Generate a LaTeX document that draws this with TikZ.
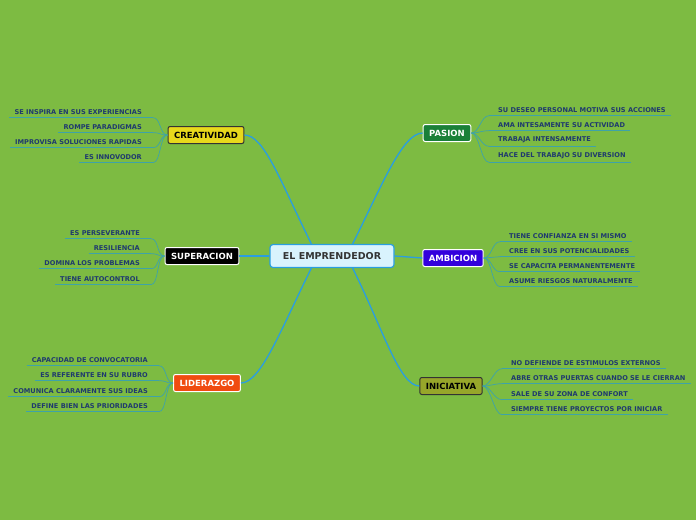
\documentclass[tikz,border=0pt]{standalone}
\usepackage{fontspec}
\setmainfont{DejaVu Sans}
\begin{document}
\begin{tikzpicture}[x=1pt,y=-1pt,
  br/.style={draw,rounded corners=2pt,line width=1pt,inner xsep=6pt,minimum height=17pt,font=\bfseries\fontsize{8.5}{9}\selectfont},
  leaf/.style={inner sep=1pt,text=leafc,font=\bfseries\fontsize{6.6}{7}\selectfont},
  ul/.style={draw=ulc,line width=0.7pt},
  con/.style={draw=conc,line width=1.3pt},
  lcon/.style={draw=ulc,line width=0.7pt}]
\definecolor{bg}{HTML}{7DBB42}
\definecolor{leafc}{HTML}{1F3A6E}
\definecolor{ulc}{HTML}{3EA3A8}
\definecolor{conc}{HTML}{2A9EE0}
\fill[bg] (0,0) rectangle (696,520);
\useasboundingbox (0,0) rectangle (696,520);
\node[draw=conc,fill=cyan!15!white,rounded corners=3pt,line width=1.2pt,minimum width=124pt,minimum height=23pt,font=\bfseries\fontsize{9.5}{10}\selectfont,text=black!80] (m) at (332,256) {EL EMPRENDEDOR};
\node[br,fill={rgb,255:red,232;green,216;blue,28},draw=black!80] (c) at (206,135) {CREATIVIDAD};
\node[br,fill=black,draw=white,text=white] (s) at (202,256) {SUPERACION};
\node[br,fill={rgb,255:red,240;green,75;blue,16},draw=white,text=white] (l) at (207,383) {LIDERAZGO};
\node[br,fill={rgb,255:red,26;green,128;blue,56},draw=white,text=white] (p) at (447,133) {PASION};
\node[br,fill={rgb,255:red,51;green,0;blue,221},draw=white,text=white] (a) at (453,258) {AMBICION};
\node[br,fill={rgb,255:red,151;green,166;blue,42},draw=black!80,text=black] (i) at (451,386) {INICIATIVA};
\draw[con] (m.north west) ++(42,0) .. controls +(-30,-60) and +(20,0) .. (c.east);
\draw[con] (m.west) -- (s.east);
\draw[con] (m.south west) ++(42,0) .. controls +(-30,60) and +(20,0) .. (l.east);
\draw[con] (m.north east) ++(-42,0) .. controls +(30,-60) and +(-20,0) .. (p.west);
\draw[con] (m.east) -- (a.west);
\draw[con] (m.south east) ++(-42,0) .. controls +(30,60) and +(-20,0) .. (i.west);
\foreach \pn/\xx/\lst in {c/143/{112/SE INSPIRA EN SUS EXPERIENCIAS,127/ROMPE PARADIGMAS,142/IMPROVISA SOLUCIONES RAPIDAS,157/ES INNOVODOR},
  s/141/{233/ES PERSEVERANTE,248/RESILIENCIA,263/DOMINA LOS PROBLEMAS,279/TIENE AUTOCONTROL},
  l/149/{360/CAPACIDAD DE CONVOCATORIA,375/ES REFERENTE EN SU RUBRO,391/COMUNICA CLARAMENTE SUS IDEAS,406/DEFINE BIEN LAS PRIORIDADES}}{
  \foreach \yy/\t [count=\k] in \lst {
    \node[leaf,anchor=east] (\pn L\k) at (\xx,\yy) {\t};
    \draw[ul] ([xshift=-4pt,yshift=-2pt]\pn L\k.south west) -- ([xshift=10pt,yshift=-2pt]\pn L\k.south east);
    \draw[lcon] ([xshift=10pt,yshift=-2pt]\pn L\k.south east) .. controls +(8,0) and +(-8,0) .. (\pn.west);
  }}
\foreach \pn/\xx/\lst in {p/497/{110/SU DESEO PERSONAL MOTIVA SUS ACCIONES,125/AMA INTESAMENTE SU ACTIVIDAD,140/TRABAJA INTENSAMENTE,156/HACE DEL TRABAJO SU DIVERSION},
  a/508/{236/TIENE CONFIANZA EN SI MISMO,251/CREE EN SUS POTENCIALIDADES,266/SE CAPACITA PERMANENTEMENTE,281/ASUME RIESGOS NATURALMENTE},
  i/510/{363/NO DEFIENDE DE ESTIMULOS EXTERNOS,378/ABRE OTRAS PUERTAS CUANDO SE LE CIERRAN,394/SALE DE SU ZONA DE CONFORT,409/SIEMPRE TIENE PROYECTOS POR INICIAR}}{
  \foreach \yy/\t [count=\k] in \lst {
    \node[leaf,anchor=west] (\pn R\k) at (\xx,\yy) {\t};
    \draw[ul] ([xshift=-8pt,yshift=-2pt]\pn R\k.south west) -- ([xshift=4pt,yshift=-2pt]\pn R\k.south east);
    \draw[lcon] ([xshift=-8pt,yshift=-2pt]\pn R\k.south west) .. controls +(-8,0) and +(8,0) .. (\pn.east);
  }}
\end{tikzpicture}
\end{document}
